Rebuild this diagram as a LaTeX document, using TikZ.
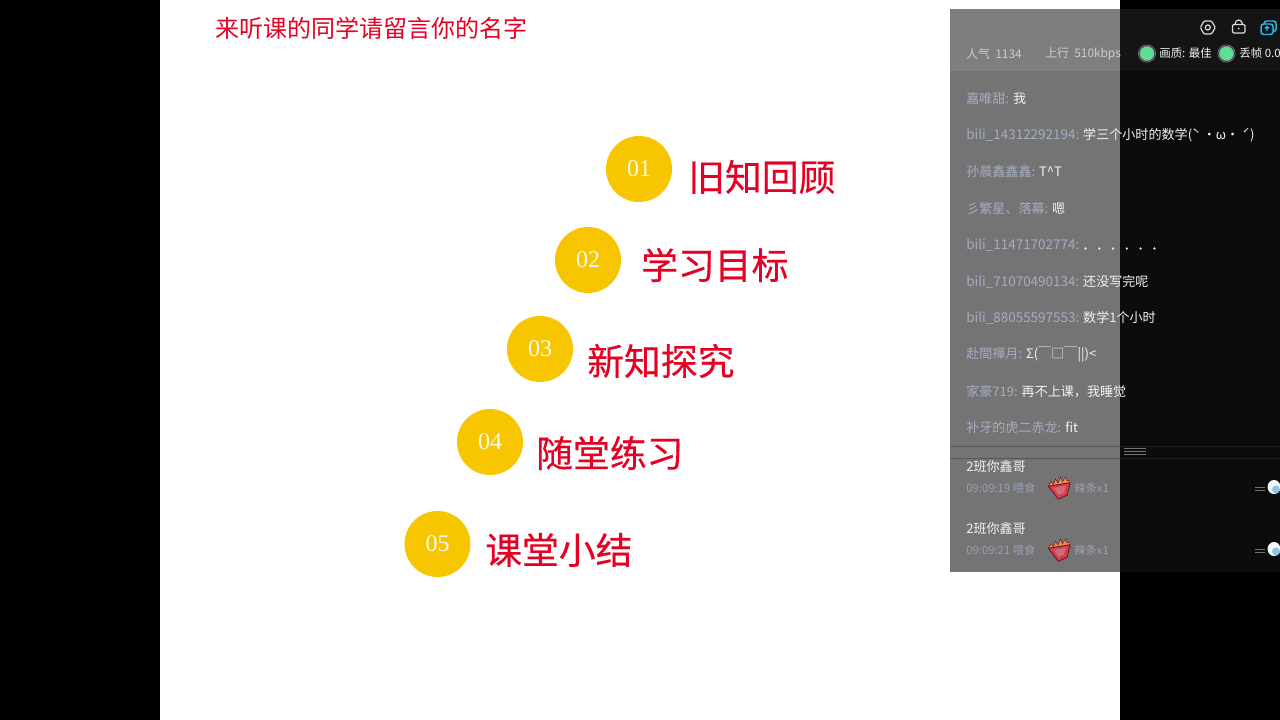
\documentclass[tikz,border=0pt]{standalone}
\usepackage{fontspec}
\setmainfont{Liberation Serif}
\newfontfamily\cjk{Noto Sans CJK SC}
\newfontfamily\cjkb{Noto Sans CJK SC}[FakeBold=0.35]
\definecolor{red1}{HTML}{E60023}
\definecolor{gold}{HTML}{F7C600}
\definecolor{panelL}{HTML}{747474}
\definecolor{panelLT}{HTML}{7E7E7E}
\definecolor{panelD}{HTML}{0C0C0C}
\definecolor{panelDT}{HTML}{141414}
\definecolor{nameC}{HTML}{A5ADC2}
\definecolor{msgC}{HTML}{F2F2F2}
\definecolor{timeC}{HTML}{98A0B4}
\definecolor{greenC}{HTML}{5FDC95}
\definecolor{cyanC}{HTML}{2FB8E6}
\definecolor{friesO}{HTML}{F28A4A}
\definecolor{friesR}{HTML}{E0384A}
\definecolor{friesP}{HTML}{C8707A}
\definecolor{friesD}{HTML}{4A1420}
\definecolor{eggB}{HTML}{8FC4E0}
\tikzset{
 num/.style={circle,fill=gold,minimum size=49.5pt,inner sep=0pt,text=white!92!gold,font=\fontsize{18}{20}\selectfont},
 head/.style={anchor=west,inner sep=0pt,text=red1,font=\cjkb\fontsize{27.6}{30}\selectfont},
 chat/.style={anchor=west,inner sep=0pt,text=msgC,font=\cjk\fontsize{9.8}{11}\selectfont},
 stat/.style={anchor=west,inner sep=0pt,text=msgC!85!black,font=\cjk\fontsize{8.9}{10}\selectfont},
 tm/.style={anchor=west,inner sep=0pt,text=timeC,font=\cjk\fontsize{8.5}{10}\selectfont},
 ico/.style={line width=0.9pt,draw=white!85!black},
 dot/.style={circle,fill=greenC,draw=white!55!black,double=black!75,line width=0.35pt,double distance=0.7pt,minimum size=12pt,inner sep=0pt}
}
\newcommand{\nm}[1]{\textcolor{nameC}{#1}}
\newcommand{\nb}[1]{\textcolor{nameC}{\fontsize{10.1}{11}\selectfont #1}}
\newcommand{\wdots}{\foreach \i in {1,...,6}{\makebox[10.35pt][l]{\cjkb\fontsize{12}{11}\selectfont .}}}
\newcommand{\fries}[2]{%
 \begin{scope}[shift={(#1,#2)}]
  \fill[friesO,draw=friesD,line width=0.3pt] (-10.7,-1.7) -- (-8,-6.5) -- (-5.5,-3.5) -- (-3.5,-9) -- (-1,-5) -- (1.5,-11) -- (3.5,-6.5) -- (7,-11.5) -- (8,-7) -- (11,-8) -- (11,-5.3) -- cycle;
  \fill[friesR,draw=friesD,line width=0.5pt] (-10.7,-1.7) -- (11,-5.3) -- (8.3,7) -- (-0.7,11.3) -- cycle;
  \fill[friesP] (-5,0) -- (7,-2.5) -- (5,4.5) -- (-0.5,7) -- cycle;
 \end{scope}}
\newcommand{\egg}[2]{%
 \begin{scope}[shift={(#1,#2)}]
  \fill[white!45!black] (-17,-1.2) rectangle (-7,-0.2);
  \fill[white!45!black] (-17,2.2) rectangle (-7,3.2);
  \fill[white!95!cyan] (2,-1) ellipse (6.5 and 7);
  \fill[eggB] (4,1.5) ellipse (4 and 4);
 \end{scope}}
\begin{document}
\begin{tikzpicture}[x=0.75pt,y=-0.75pt]
\useasboundingbox (0,0) rectangle (1280,720);
\fill[black] (0,0) rectangle (1280,720);
\fill[white] (160,0) rectangle (1120,720);
% panel
\fill[panelD] (950,9) rectangle (1280,572);
\fill[panelDT] (950,9) rectangle (1280,71);
\fill[panelL] (950,9) rectangle (1120,572);
\fill[panelLT] (950,9) rectangle (1120,71);
\draw[panelL!75!black,line width=0.6pt] (950,446) -- (1120,446);
\draw[panelL!75!black,line width=0.6pt] (950,458) -- (1120,458);
\draw[black!88,line width=0.6pt] (1120,446) -- (1280,446);
\draw[black!88,line width=0.6pt] (1120,458) -- (1280,458);
\foreach \yy in {448.5,451.5,454.5} \draw[white!45!black,line width=0.5pt] (1124,\yy) -- (1146,\yy);
% slide
\node[anchor=west,inner sep=0pt,text=red1,font=\cjk\fontsize{18}{20}\selectfont] (title) at (215,28) {来听课的同学请留言你的名字};
\node[num] (n1) at (639,169) {\raisebox{-0.75pt}{01}};
\node[num] (n2) at (588,260) {\raisebox{-0.75pt}{02}};
\node[num] (n3) at (540,349) {\raisebox{-0.75pt}{03}};
\node[num] (n4) at (490,442) {\raisebox{-0.75pt}{04}};
\node[num] (n5) at (437.5,544) {\raisebox{-0.75pt}{05}};
\node[head] (h1) at (688,177) {旧知回顾};
\node[head] (h2) at (641,265) {学习目标};
\node[head] (h3) at (587,361) {新知探究};
\node[head] (h4) at (536,453) {随堂练习};
\node[head] (h5) at (485,550) {课堂小结};
% status row
\node[stat] (s1) at (966,53.5) {人气\ \ 1134};
\node[stat] (s2) at (1045,53.5) {上行\ \ 510kbps};
\node[dot] (d1) at (1147,53.5) {};
\node[stat,text=msgC,font=\cjk\fontsize{8.6}{10}\selectfont] (s3) at (1159,53.5) {画质: 最佳};
\node[dot] (d2) at (1226.5,53.5) {};
\node[stat,text=msgC,font=\cjk\fontsize{8.6}{10}\selectfont] (s4) at (1239,53.5) {丢帧 0.0};
% icons
\begin{scope}[shift={(1207.8,27.5)}]
 \draw[ico,rounded corners=0.8pt] (0:7.5) -- (60:7.5) -- (120:7.5) -- (180:7.5) -- (240:7.5) -- (300:7.5) -- cycle;
 \draw[ico] (0,0) circle (2.5);
\end{scope}
\begin{scope}[shift={(1238.7,27.5)}]
 \draw[ico,rounded corners=1pt] (-6.3,-3) rectangle (6.3,5.5);
 \draw[ico] (-3.5,-3) -- (-3.5,-4) arc (180:360:3.5) -- (3.5,-3.6);
 \fill[white!85!black] (0,1.2) circle (1);
\end{scope}
\begin{scope}[shift={(1268,27.5)}]
 \draw[ico,draw=cyanC,line width=1.1pt,rounded corners=2pt] (-7,-3.5) rectangle (5,7);
 \draw[ico,draw=cyanC,line width=1.1pt,rounded corners=2pt] (-4,-3.5) -- (-4,-6.5) -- (8,-6.5) -- (8,4) -- (5,4);
 \draw[ico,draw=cyanC] (-1,3.5) -- (-1,-1) (-3.2,1) -- (-1,-1) -- (1.2,1);
\end{scope}
% chat
\node[chat] (c1) at (966,99) {\nm{嘉唯甜:} 我};
\node[chat] (c2) at (966,135.5) {\nb{bili\_14312292194:} 学三个小时的数学(ˋ ·ω· ˊ)};
\node[chat] (c3) at (966,172) {\nm{孙晨鑫鑫鑫:} T\^{}T};
\node[chat] (c4) at (966,208.5) {\nm{彡繁星、落幕:} 嗯};
\node[chat] (c5) at (966,245) {\nb{bili\_11471702774:} \wdots};
\node[chat] (c6) at (966,281.5) {\nb{bili\_71070490134:} 还没写完呢};
\node[chat] (c7) at (966,318) {\nb{bili\_88055597553:} 数学1个小时};
\node[chat] (c8) at (966,355) {\nm{赴間禪月:} Σ(￣□￣||)<};
\node[chat] (c9) at (966,391.5) {\nm{家豪719:} 再不上课，我睡觉};
\node[chat] (c10) at (966,428) {\nm{补牙的虎二赤龙:} fit};
\node[chat] (g1) at (966,466.5) {2班你鑫哥};
\node[tm] (g1t) at (966,488.5) {09:09:19 喂食};
\fries{1059}{488}
\node[tm] (g1g) at (1074,488.5) {辣条x1};
\egg{1272}{488}
\node[chat] (g2) at (966,528) {2班你鑫哥};
\node[tm] (g2t) at (966,550) {09:09:21 喂食};
\fries{1059}{550}
\node[tm] (g2g) at (1074,550) {辣条x1};
\egg{1272}{550}
\end{tikzpicture}
\end{document}
